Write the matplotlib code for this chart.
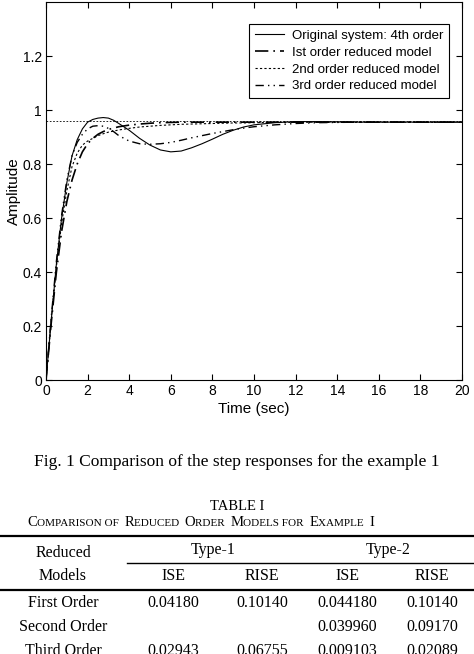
import matplotlib
matplotlib.use("Agg")
import matplotlib.pyplot as plt
from matplotlib.lines import Line2D

t = [0, 0.25, 0.5, 0.75, 1.0, 1.25, 1.5, 1.75, 2.0, 2.25, 2.5, 2.75, 3.0, 3.25, 3.5, 4.0, 4.5, 5.0, 5.5, 6.0, 6.5, 7.0, 7.5, 8.0, 8.5, 9.0, 9.5, 10, 11, 12, 13, 14, 15, 16, 17, 18, 19, 20]
orig = [0, 0.22, 0.43, 0.60, 0.73, 0.83, 0.89, 0.93, 0.955, 0.965, 0.97, 0.972, 0.97, 0.962, 0.95, 0.925, 0.895, 0.87, 0.852, 0.845, 0.848, 0.86, 0.875, 0.892, 0.91, 0.925, 0.937, 0.945, 0.953, 0.957, 0.957, 0.956, 0.955, 0.955, 0.955, 0.955, 0.955, 0.955]
first = [0, 0.21, 0.40, 0.55, 0.66, 0.74, 0.80, 0.845, 0.875, 0.895, 0.91, 0.92, 0.928, 0.933, 0.938, 0.944, 0.948, 0.951, 0.953, 0.954, 0.955, 0.955, 0.955, 0.955, 0.955, 0.955, 0.955, 0.955, 0.955, 0.955, 0.955, 0.955, 0.955, 0.955, 0.955, 0.955, 0.955, 0.955]
second = [0, 0.22, 0.42, 0.58, 0.70, 0.79, 0.84, 0.87, 0.885, 0.895, 0.905, 0.912, 0.918, 0.922, 0.926, 0.932, 0.937, 0.94, 0.943, 0.945, 0.947, 0.948, 0.949, 0.95, 0.951, 0.952, 0.952, 0.953, 0.954, 0.954, 0.955, 0.955, 0.955, 0.955, 0.955, 0.955, 0.955, 0.955]
third = [0, 0.23, 0.44, 0.61, 0.74, 0.83, 0.88, 0.91, 0.93, 0.94, 0.942, 0.94, 0.932, 0.92, 0.905, 0.885, 0.875, 0.873, 0.875, 0.88, 0.888, 0.897, 0.905, 0.913, 0.92, 0.927, 0.933, 0.938, 0.945, 0.95, 0.953, 0.954, 0.955, 0.955, 0.955, 0.955, 0.955, 0.955]
ref_level = 0.96

legend_labels = ["Original system: 4th order", "Ist order reduced model", "2nd order reduced model", "3rd order reduced model"]

row_labels = ["First Order", "Second Order", "Third Order"]
t1_ise = ["0.04180", "", "0.02943"]
t1_rise = ["0.10140", "", "0.06755"]
t2_ise = ["0.044180", "0.039960", "0.009103"]
t2_rise = ["0.10140", "0.09170", "0.02089"]

W, H = 474, 654
fig = plt.figure(figsize=(W/100, H/100), dpi=100)
sans = ['Liberation Sans', 'DejaVu Sans']
serif = ['Liberation Serif', 'DejaVu Serif']

ax = fig.add_axes([46/W, 1-380/H, 416/W, 378/H])
ax.plot(t, orig, color='k', lw=0.8, ls='-')
ax.plot(t, first, color='k', lw=1.2, ls=(0, (8, 3, 1, 3)))
ax.plot(t, second, color='k', lw=0.8, ls=(0, (2, 2)))
ax.plot(t, third, color='k', lw=1.0, ls=(0, (6, 3, 1, 3, 1, 3)))
ax.axhline(ref_level, color='k', lw=0.6, ls=(0, (2, 2)))
ax.set_xlim(0, 20)
ax.set_ylim(0, 1.4)
ax.set_xticks(range(0, 21, 2))
ax.set_yticks([0, 0.2, 0.4, 0.6, 0.8, 1.0, 1.2])
ax.set_yticklabels(["0", "0.2", "0.4", "0.6", "0.8", "1", "1.2"])
ax.tick_params(direction='in', top=True, right=True, length=4, labelsize=10, pad=3)
for lab in ax.get_xticklabels() + ax.get_yticklabels():
    lab.set_family(sans)
ax.set_xlabel("Time (sec)", family=sans, fontsize=11, labelpad=3)
ax.set_ylabel("Amplitude", family=sans, fontsize=11, labelpad=1)
handles = [Line2D([], [], color='k', lw=0.8),
           Line2D([], [], color='k', lw=1.2, ls=(0, (8, 3, 1, 3))),
           Line2D([], [], color='k', lw=0.8, ls=(0, (2, 2))),
           Line2D([], [], color='k', lw=1.0, ls=(0, (6, 3, 1, 3, 1, 3)))]
leg = ax.legend(handles, legend_labels, loc='upper right', bbox_to_anchor=(0.985, 0.96),
                prop={'family': sans, 'size': 9.5}, fancybox=False, edgecolor='k',
                framealpha=1, handlelength=2.2, labelspacing=0.35, borderpad=0.45, handletextpad=0.6)
leg.get_frame().set_linewidth(0.8)

def fy(y): return 1 - y/H
def fx(x): return x/W

fig.text(0.5, fy(462), "Fig. 1 Comparison of the step responses for the example 1",
         ha='center', va='center', family=serif, fontsize=12.5)
fig.text(0.5, fy(506), "TABLE I", ha='center', va='center', family=serif, fontsize=10.5)

# small caps title, laid out by measured widths
pieces = [("C", 10.5), ("OMPARISON OF ", 8), ("R", 10.5), ("EDUCED ", 8), ("O", 10.5), ("RDER ", 8),
          ("M", 10.5), ("ODELS FOR ", 8), ("E", 10.5), ("XAMPLE ", 8), ("I", 10.5)]
renderer = fig.canvas.get_renderer()
xpix = 27.0
for s, size in pieces:
    txt = fig.text(fx(xpix), fy(526), s, ha='left', va='baseline', family=serif, fontsize=size)
    w = txt.get_window_extent(renderer).width
    if s.endswith(" "):
        w += size * 0.25 * 100 / 72
    xpix += w

for y, lw, x0 in [(536, 1.6, 0), (563, 1.0, 127), (590, 1.6, 0)]:
    fig.add_artist(Line2D([fx(x0), 1], [fy(y), fy(y)], color='k', lw=lw, transform=fig.transFigure))

fs = 11.5
fig.text(fx(63), fy(553), "Reduced", ha='center', va='center', family=serif, fontsize=fs)
fig.text(fx(63), fy(576), "Models", ha='center', va='center', family=serif, fontsize=fs)
fig.text(fx(213), fy(550), "Type-1", ha='center', va='center', family=serif, fontsize=fs)
fig.text(fx(388), fy(550), "Type-2", ha='center', va='center', family=serif, fontsize=fs)
cols = [173, 262, 347, 432]
for c, h in zip(cols, ["ISE", "RISE", "ISE", "RISE"]):
    fig.text(fx(c), fy(576), h, ha='center', va='center', family=serif, fontsize=fs)
rows_y = [603, 627, 651]
for i, y in enumerate(rows_y):
    fig.text(fx(63), fy(y), row_labels[i], ha='center', va='center', family=serif, fontsize=fs)
    for c, v in zip(cols, [t1_ise[i], t1_rise[i], t2_ise[i], t2_rise[i]]):
        fig.text(fx(c), fy(y), v, ha='center', va='center', family=serif, fontsize=fs)

fig.savefig("out.png", dpi=100)
